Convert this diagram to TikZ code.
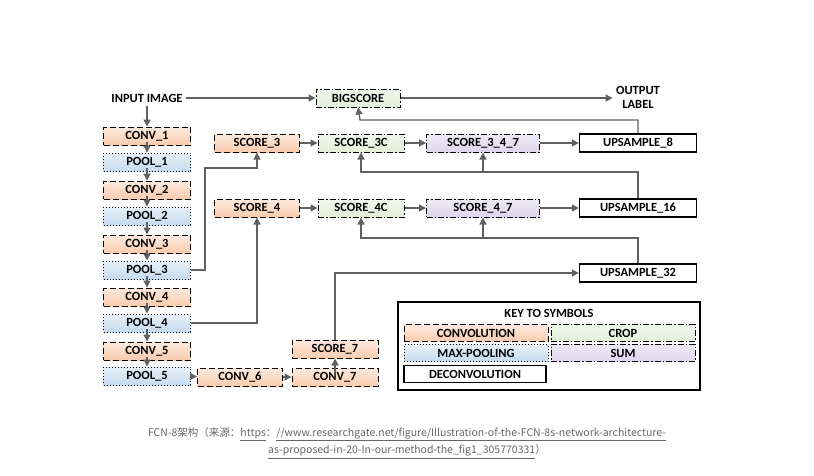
\documentclass[tikz,border=0pt]{standalone}
\usepackage{fontspec}
\setmainfont{Carlito}
\newfontfamily\cjk{Noto Sans CJK SC}
\usetikzlibrary{arrows.meta}
\definecolor{cor}{HTML}{F8CBAD}
\definecolor{cbl}{HTML}{C5DBEF}
\definecolor{cgr}{HTML}{E2EFDA}
\definecolor{cpu}{HTML}{DDD6EC}
\definecolor{ln}{HTML}{606060}
\begin{document}
\begin{tikzpicture}[x=1pt,y=-1pt,
 base/.style={draw=black,line width=1pt,minimum height=18pt,inner sep=1pt,font=\fontsize{12.5}{14}\selectfont\bfseries},
 conv/.style={base,top color=cor!40,bottom color=cor,dash pattern=on 6pt off 3pt},
 pool/.style={base,top color=cbl!40,bottom color=cbl,dotted},
 crop/.style={base,top color=cgr!50,bottom color=cgr,dash pattern=on 6pt off 2pt on 1.5pt off 2pt},
 sum/.style={base,top color=cpu!50,bottom color=cpu,dash pattern=on 6pt off 2pt on 1.5pt off 2pt},
 dec/.style={base,fill=white,solid,line width=1.3pt},
 lbl/.style={font=\fontsize{12.5}{14}\selectfont\bfseries,align=center},
 ar/.style={draw=ln,line width=1.3pt,-{Triangle[length=7pt,width=7pt]}},
 li/.style={draw=ln,line width=1.3pt}]
\useasboundingbox (0,0) rectangle (814,475);
\node[lbl] (in) at (147,98) {INPUT IMAGE};
\node[crop,minimum width=84pt] (big) at (358,98) {BIGSCORE};
\node[lbl] (out) at (638,97) {OUTPUT\\LABEL};
\foreach \n/\s/\y in {c1/conv/136,p1/pool/162,c2/conv/190,p2/pool/216,c3/conv/244,p3/pool/270,c4/conv/297,p4/pool/323,c5/conv/351,p5/pool/376}
  \node[\s,minimum width=87pt] (\n) at (147,\y) {};
\node at (c1) [lbl] {CONV\_1}; \node at (p1) [lbl] {POOL\_1};
\node at (c2) [lbl] {CONV\_2}; \node at (p2) [lbl] {POOL\_2};
\node at (c3) [lbl] {CONV\_3}; \node at (p3) [lbl] {POOL\_3};
\node at (c4) [lbl] {CONV\_4}; \node at (p4) [lbl] {POOL\_4};
\node at (c5) [lbl] {CONV\_5}; \node at (p5) [lbl] {POOL\_5};
\node[conv,minimum width=85pt] (c6) at (240,377) {CONV\_6};
\node[conv,minimum width=86pt] (c7) at (335,377) {CONV\_7};
\node[conv,minimum width=86pt] (s7) at (335,349) {SCORE\_7};
\node[conv,minimum width=85pt] (s3) at (257,143) {SCORE\_3};
\node[crop,minimum width=86pt] (s3c) at (361,143) {SCORE\_3C};
\node[sum,minimum width=113pt] (s347) at (483,143) {SCORE\_3\_4\_7};
\node[dec,minimum width=117pt] (u8) at (638,143) {UPSAMPLE\_8};
\node[conv,minimum width=85pt] (s4) at (257,208) {SCORE\_4};
\node[crop,minimum width=86pt] (s4c) at (361,208) {SCORE\_4C};
\node[sum,minimum width=113pt] (s47) at (483,208) {SCORE\_4\_7};
\node[dec,minimum width=117pt] (u16) at (638,208) {UPSAMPLE\_16};
\node[dec,minimum width=117pt] (u32) at (638,273) {UPSAMPLE\_32};
% key
\node[draw=black,line width=1.3pt,minimum width=302pt,minimum height=88pt] (key) at (549,346) {};
\node[lbl] (kt) at (549,313) {KEY TO SYMBOLS};
\node[conv,minimum width=144pt,minimum height=17pt] (k1) at (476,333) {CONVOLUTION};
\node[crop,minimum width=144pt,minimum height=17pt] (k2) at (623,333) {CROP};
\node[pool,minimum width=144pt,minimum height=17pt] (k3) at (476,353) {MAX-POOLING};
\node[sum,minimum width=144pt,minimum height=17pt] (k4) at (623,353) {SUM};
\node[dec,minimum width=142pt,minimum height=17pt] (k5) at (475,374) {DECONVOLUTION};
% connectors
\draw[ar] (in) -- (big);
\draw[ar] (big) -- (out.west|-big);
\draw[ar] (in) -- (c1);
\foreach \a/\b in {c1/p1,p1/c2,c2/p2,p2/c3,c3/p3,p3/c4,c4/p4,p4/c5,c5/p5}
  \draw[ar] (\a.center) ++(0,6) -- (\b.north);
\draw[ar] (p5) -- (c6);
\draw[ar] (c6) -- (c7);
\draw[ar] (c7.center) ++(0,-4) -- (s7.south);
\draw[ar] (s7.north) |- (u32.west);
\draw[ar] (p3.east) -| (205,168) -| (s3.south);
\draw[ar] (p4.east) -| (s4.south);
\draw[ar] (s3) -- (s3c); \draw[ar] (s3c) -- (s347); \draw[ar] (s347) -- (u8);
\draw[ar] (s4) -- (s4c); \draw[ar] (s4c) -- (s47); \draw[ar] (s47) -- (u16);
\draw[ar] (u8.north) |- (360,120) -- (big.south);
\draw[ar] (u16.north) |- (361,172) -- (s3c.south);
\draw[ar] (483,172) -- (s347.south);
\draw[ar] (u32.north) |- (361,238) -- (s4c.south);
\draw[ar] (483,238) -- (s47.south);
% caption
\node[font=\cjk\fontsize{10.5}{13}\selectfont,text=black!60,align=center] (cap) at (407,443)
 {FCN-8架构（来源：\underline{https}：\underline{//www.researchgate.net/figure/Illustration-of-the-FCN-8s-network-architecture-}\\[3pt]
 \underline{as-proposed-in-20-In-our-method-the\_fig1\_305770331}）};
\end{tikzpicture}
\end{document}
